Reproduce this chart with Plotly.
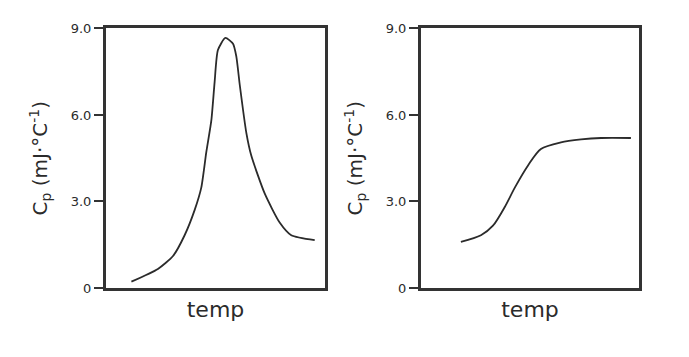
import plotly.graph_objects as go

# Data
left_temp = [11.6, 23.7, 30.6, 35.9, 40.5, 43.5, 45.8, 48.1, 49.6, 51.1, 54.5, 58.0, 59.5, 61.1, 64.1, 66.3, 72.5, 79.3, 84.6, 95.3]
left_cp = [0.22, 0.66, 1.11, 1.83, 2.71, 3.48, 4.71, 5.81, 7.14, 8.25, 8.67, 8.47, 8.03, 7.03, 5.37, 4.60, 3.27, 2.27, 1.83, 1.66]
right_temp = [18.3, 27.5, 33.0, 38.5, 43.1, 49.1, 55.0, 64.2, 73.4, 82.6, 96.3]
right_cp = [1.6, 1.83, 2.16, 2.82, 3.49, 4.25, 4.82, 5.05, 5.15, 5.2, 5.2]
tick_vals = [0, 3, 6, 9]
tick_text = ["0", "3.0", "6.0", "9.0"]
y_title = "C<sub>p</sub> (mJ·°C<sup>-1</sup>)"
x_title = "temp"

ink = "#2b2b2b"
font = "DejaVu Sans"

fig = go.Figure()
fig.add_trace(go.Scatter(x=left_temp, y=left_cp, mode="lines",
                         line=dict(color=ink, width=1.8, shape="spline", smoothing=0.6),
                         xaxis="x", yaxis="y", showlegend=False))
fig.add_trace(go.Scatter(x=right_temp, y=right_cp, mode="lines",
                         line=dict(color=ink, width=1.8, shape="spline", smoothing=0.8),
                         xaxis="x2", yaxis="y2", showlegend=False))

ydom = [1 - 285 / 357, 1 - 14 / 357]
xaxis_common = dict(range=[0, 100], showticklabels=False, ticks="", showgrid=False, zeroline=False,
                    showline=True, mirror=True, linecolor="#333333", linewidth=3,
                    title=dict(text=x_title, font=dict(family=font, size=22, color=ink), standoff=12))
yaxis_common = dict(range=[0, 9], tickvals=tick_vals, ticktext=tick_text, ticks="outside", ticklen=9,
                    tickwidth=2, tickcolor="#333333", showgrid=False, zeroline=False,
                    showline=True, mirror=True, linecolor="#333333", linewidth=3,
                    tickfont=dict(family=font, size=13, color=ink),
                    title=dict(text=y_title, font=dict(family=font, size=20, color=ink), standoff=18))

fig.update_layout(
    width=689, height=357,
    margin=dict(l=0, r=0, t=0, b=0),
    paper_bgcolor="white", plot_bgcolor="white",
    xaxis=dict(domain=[98 / 689, 317 / 689], anchor="y", **xaxis_common),
    yaxis=dict(domain=ydom, anchor="x", **yaxis_common),
    xaxis2=dict(domain=[413 / 689, 631 / 689], anchor="y2", **xaxis_common),
    yaxis2=dict(domain=ydom, anchor="x2", **yaxis_common),
)

fig.write_html("out.html")
